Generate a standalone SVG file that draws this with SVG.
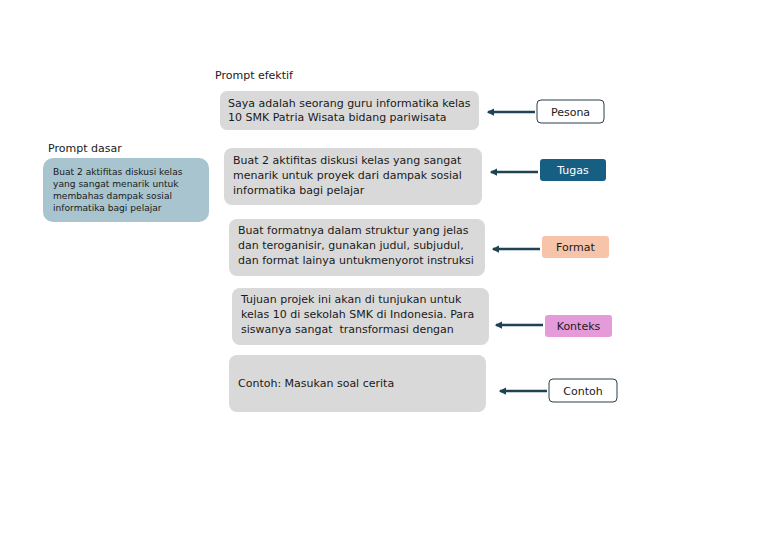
<svg xmlns="http://www.w3.org/2000/svg" width="768" height="543" viewBox="0 0 768 543">
<style>
text{font-family:"DejaVu Sans","Liberation Sans",sans-serif;fill:#1a1a1a}
.p{fill:#d9d9d9}
.t{font-size:11px}
.s{font-size:9.1px}
.lbl{font-size:11px}
.c{stroke:#1f4256;stroke-width:2.5;fill:none;marker-end:url(#ah)}
.ctr{text-anchor:middle;font-size:11px}
</style>
<defs>
<marker id="ah" viewBox="0 0 6 6" refX="5" refY="3" markerWidth="3" markerHeight="3" orient="auto">
<path d="M0,0 L6,3 L0,6 Z" fill="#1f4256"/>
</marker>
<clipPath id="c3"><rect x="229" y="219" width="256" height="57" rx="8"/></clipPath>
<clipPath id="c4"><rect x="232" y="288" width="257" height="57" rx="8"/></clipPath>
</defs>
<rect width="768" height="543" fill="#fff"/>
<text x="215" y="79" class="lbl">Prompt efektif</text>
<text x="48" y="152" class="lbl">Prompt dasar</text>
<g id="dasar">
<rect x="43" y="158" width="166" height="64" rx="10" fill="#a7c4cf"/>
<text class="s"><tspan x="53" y="175">Buat 2 aktifitas diskusi kelas</tspan><tspan x="53" y="187">yang sangat menarik untuk</tspan><tspan x="53" y="199">membahas dampak sosial</tspan><tspan x="53" y="211">informatika bagi pelajar</tspan></text>
</g>
<g id="p1">
<rect class="p" x="220" y="91" width="259" height="39" rx="7"/>
<text class="t"><tspan x="228" y="107">Saya adalah seorang guru informatika kelas</tspan><tspan x="228" y="121">10 SMK Patria Wisata bidang pariwisata</tspan></text>
</g>
<g id="p2">
<rect class="p" x="224" y="148" width="258" height="57" rx="8"/>
<text class="t"><tspan x="233" y="164">Buat 2 aktifitas diskusi kelas yang sangat</tspan><tspan x="233" y="179">menarik untuk proyek dari dampak sosial</tspan><tspan x="233" y="194">informatika bagi pelajar</tspan></text>
</g>
<g id="p3">
<rect class="p" x="229" y="219" width="256" height="57" rx="8"/>
<text class="t" clip-path="url(#c3)"><tspan x="238" y="234">Buat formatnya dalam struktur yang jelas</tspan><tspan x="238" y="249">dan teroganisir, gunakan judul, subjudul,</tspan><tspan x="238" y="264">dan format lainya untukmenyorot instruksi</tspan></text>
</g>
<g id="p4">
<rect class="p" x="232" y="288" width="257" height="57" rx="8"/>
<text class="t" clip-path="url(#c4)" style="white-space:pre"><tspan x="241" y="303">Tujuan projek ini akan di tunjukan untuk</tspan><tspan x="241" y="318">kelas 10 di sekolah SMK di Indonesia. Para</tspan><tspan x="241" y="333">siswanya sangat  transformasi dengan</tspan></text>
</g>
<g id="p5">
<rect class="p" x="229" y="355" width="257" height="57" rx="8"/>
<text class="t" x="238" y="387">Contoh: Masukan soal cerita</text>
</g>
<g id="pesona">
<rect x="537" y="100" width="67" height="23" rx="4" fill="#fff" stroke="#2b3f4c" stroke-width="1"/>
<text class="ctr" x="570.5" y="115.5">Pesona</text>
</g>
<g id="tugas">
<rect x="540" y="159" width="66" height="22" rx="3" fill="#175f82"/>
<text class="ctr" x="573" y="174" style="fill:#fff">Tugas</text>
</g>
<g id="format">
<rect x="542" y="236" width="67" height="22" rx="3" fill="#f6c4a9"/>
<text class="ctr" x="575.5" y="251">Format</text>
</g>
<g id="konteks">
<rect x="545" y="315" width="67" height="22" rx="3" fill="#e59bda"/>
<text class="ctr" x="578.5" y="330">Konteks</text>
</g>
<g id="contoh">
<rect x="549" y="379" width="68" height="23" rx="4" fill="#fff" stroke="#2b3f4c" stroke-width="1"/>
<text class="ctr" x="583" y="394.5">Contoh</text>
</g>
<g id="connectors">
<line class="c" x1="535" y1="112" x2="488" y2="112"/>
<line class="c" x1="538" y1="172" x2="491" y2="172"/>
<line class="c" x1="540" y1="249" x2="493" y2="249"/>
<line class="c" x1="543" y1="325" x2="496" y2="325"/>
<line class="c" x1="547" y1="391" x2="500" y2="391"/>
</g>
</svg>
